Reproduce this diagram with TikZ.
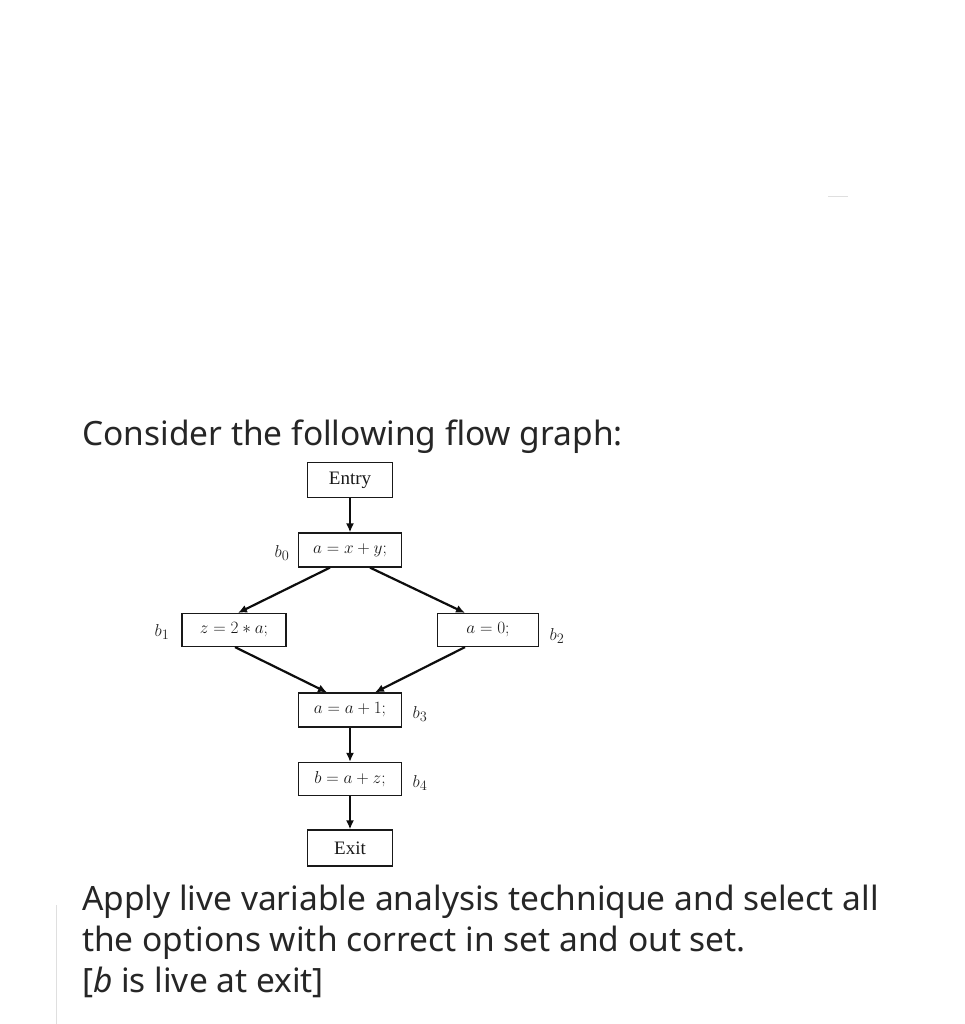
\documentclass[tikz,border=0pt]{standalone}
\usepackage{fontspec}
\setmainfont{Noto Sans}
\newfontfamily\serif{Liberation Serif}
\usetikzlibrary{arrows.meta}
\begin{document}
\begin{tikzpicture}[x=1pt,y=-1pt,
  blk/.style={draw,line width=1.2pt,inner sep=0pt,font=\serif\fontsize{19}{19}\selectfont,gray!20!black},
  lbl/.style={font=\fontsize{19}{19}\selectfont,gray!30!black},
  edge/.style={-{Latex[length=9pt,width=8pt]},line width=2.2pt,gray!10!black},
  big/.style={anchor=base west,font=\fontsize{33.5}{33.5}\selectfont,text=black!85,inner sep=0pt}]
\useasboundingbox (0,0) rectangle (965,1024);
\fill[white] (0,0) rectangle (965,1024);
\node[big] (t1) at (82,445) {Consider the following flow graph:};
\node[blk,minimum width=85pt,minimum height=35pt] (entry) at (350,480) {Entry};
\node[blk,minimum width=103pt,minimum height=34pt] (b0) at (350,550) {$a=x+y;$};
\node[blk,minimum width=104pt,minimum height=33pt] (b1) at (234,630) {$z=2*a;$};
\node[blk,minimum width=101pt,minimum height=33pt] (b2) at (488,630) {$a=0;$};
\node[blk,minimum width=103pt,minimum height=34pt] (b3) at (350,710) {$a=a+1;$};
\node[blk,minimum width=103pt,minimum height=33pt] (b4) at (350,779) {$b=a+z;$};
\node[blk,minimum width=85pt,minimum height=36pt] (exit) at (350,848) {Exit};
\node[lbl] (l0) at (282,553) {$b_0$};
\node[lbl] (l1) at (162,632) {$b_1$};
\node[lbl] (l2) at (557,636) {$b_2$};
\node[lbl] (l3) at (420,714) {$b_3$};
\node[lbl] (l4) at (420,783) {$b_4$};
\draw[edge] (entry) -- (b0);
\draw[edge] ([xshift=-20pt]b0.south) -- ([xshift=4pt]b1.north);
\draw[edge] ([xshift=20pt]b0.south) -- ([xshift=-23pt]b2.north);
\draw[edge] ([xshift=1pt]b1.south) -- ([xshift=-23pt]b3.north);
\draw[edge] ([xshift=-23pt]b2.south) -- ([xshift=25pt]b3.north);
\draw[edge] (b3) -- (b4);
\draw[edge] (b4) -- (exit);
\node[big] (t2) at (82,910) {Apply live variable analysis technique and select all};
\node[big] (t3) at (82,951) {the options with correct in set and out set.};
\node[big] (t4) at (82,992) {[\textit{b} is live at exit]};
\draw[gray!25,line width=1pt] (56,905) -- (56,1024);
\draw[gray!25,line width=1pt] (828,197) -- (848,197);
\end{tikzpicture}
\end{document}
